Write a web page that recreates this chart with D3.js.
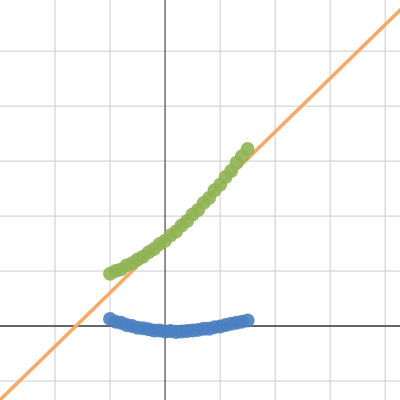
<!doctype html>
<html lang="en">
<head>
    <script src="https://d3js.org/d3.v7.min.js"></script>
    <style>
        body { margin: 0; background: white; }
        svg { display: block; }
    </style>
</head>
<body>
<script>
    // data
    const xs = [-1, -0.9, -0.8, -0.7, -0.6, -0.5, -0.4, -0.3, -0.2, -0.1, 0, 0.1, 0.2,
                0.3, 0.4, 0.5, 0.6, 0.7, 0.8, 0.9, 1.0, 1.1, 1.2, 1.3, 1.4, 1.5];
    const greenY = [0.95, 1.00, 1.03, 1.10, 1.14, 1.21, 1.26, 1.34, 1.40, 1.49, 1.55, 1.65, 1.72,
                    1.83, 1.91, 2.03, 2.11, 2.24, 2.33, 2.47, 2.57, 2.71, 2.82, 2.97, 3.09, 3.22];
    const blueY = [0.13, 0.08, 0.06, 0.02, 0.00, -0.03, -0.04, -0.06, -0.08, -0.08, -0.10, -0.09, -0.11,
                   -0.10, -0.09, -0.08, -0.07, -0.05, -0.05, -0.02, -0.01, 0.02, 0.04, 0.06, 0.08, 0.10];
    const lineSlope = 0.975, lineIntercept = 1.58;
    const gridX = [-2, -1, 1, 2, 3, 4];
    const gridY = [-1, 1, 2, 3, 4, 5];

    const width = 400, height = 400;
    const x = d3.scaleLinear().domain([-3, 4.27]).range([0, width]);
    const y = d3.scaleLinear().domain([-1.345, 5.93]).range([height, 0]);

    const svg = d3.select('body').append('svg').attr('width', width).attr('height', height);

    svg.selectAll('.gx').data(gridX).enter().append('line')
        .attr('x1', d => x(d)).attr('x2', d => x(d)).attr('y1', 0).attr('y2', height)
        .attr('stroke', '#cccccc').attr('stroke-width', 1);
    svg.selectAll('.gy').data(gridY).enter().append('line')
        .attr('y1', d => y(d)).attr('y2', d => y(d)).attr('x1', 0).attr('x2', width)
        .attr('stroke', '#cccccc').attr('stroke-width', 1);

    // axes
    svg.append('line').attr('x1', x(0)).attr('x2', x(0)).attr('y1', 0).attr('y2', height)
        .attr('stroke', '#555').attr('stroke-width', 1.3);
    svg.append('line').attr('y1', y(0)).attr('y2', y(0)).attr('x1', 0).attr('x2', width)
        .attr('stroke', '#333').attr('stroke-width', 1.5);

    // fitted line
    const lx = [-3.1, 4.4];
    svg.append('path')
        .attr('d', d3.line().x(d => x(d)).y(d => y(lineSlope * d + lineIntercept))(lx))
        .attr('stroke', '#f6aa6a').attr('stroke-width', 3.5).attr('fill', 'none');

    function dots(ys, color) {
        svg.append('g').selectAll('circle').data(xs).enter().append('circle')
            .attr('cx', d => x(d)).attr('cy', (d, i) => y(ys[i]))
            .attr('r', 7).attr('fill', color).attr('opacity', 0.9);
    }
    dots(blueY, '#4a7fc1');
    dots(greenY, '#8fb454');
</script>
</body>
</html>
